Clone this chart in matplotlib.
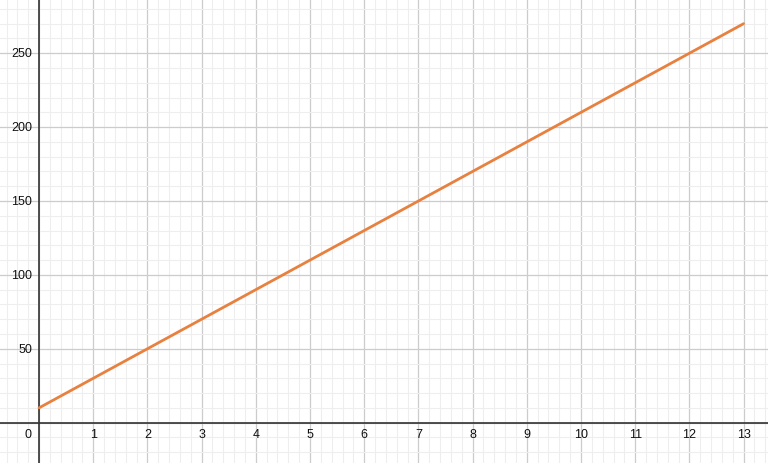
import matplotlib
matplotlib.use("Agg")
import matplotlib.pyplot as plt
from matplotlib.ticker import MultipleLocator

x_vals = [0, 13]
y_vals = [10, 270]
x_ticks = list(range(1, 14))
y_ticks = [50, 100, 150, 200, 250]

fig = plt.figure(figsize=(7.68, 4.64), dpi=100)
ax = fig.add_axes([0, 0, 1, 1])
ax.set_xlim(-0.72, 13.45)
ax.set_ylim(-27.3, 286.7)

ax.xaxis.set_major_locator(MultipleLocator(1))
ax.xaxis.set_minor_locator(MultipleLocator(0.2))
ax.yaxis.set_major_locator(MultipleLocator(50))
ax.yaxis.set_minor_locator(MultipleLocator(10))
ax.grid(which='minor', color='#eeeeee', linewidth=0.8)
ax.grid(which='major', color='#cccccc', linewidth=0.9)
ax.set_axisbelow(True)
for s in ax.spines.values():
    s.set_visible(False)
ax.tick_params(which='both', length=0, labelbottom=False, labelleft=False)

ax.axhline(0, color='#333333', linewidth=1.2, zorder=2)
ax.axvline(0, color='#333333', linewidth=1.2, zorder=2)

fs = 9
tc = '#111111'
fam = 'Liberation Sans'
for xt in x_ticks:
    ax.annotate(str(xt), (xt, 0), xytext=(0, -8), textcoords='offset points',
                ha='center', va='center', fontsize=fs, color=tc, family=fam)
ax.annotate('0', (0, 0), xytext=(-8, -8), textcoords='offset points',
            ha='center', va='center', fontsize=fs, color=tc, family=fam)
for yt in y_ticks:
    ax.annotate(str(yt), (0, yt), xytext=(-5, 0), textcoords='offset points',
                ha='right', va='center', fontsize=fs, color=tc, family=fam)

ax.plot(x_vals, y_vals, color='#e8813f', linewidth=2.0, zorder=3, solid_capstyle='round')

fig.savefig('out.png', dpi=100)
